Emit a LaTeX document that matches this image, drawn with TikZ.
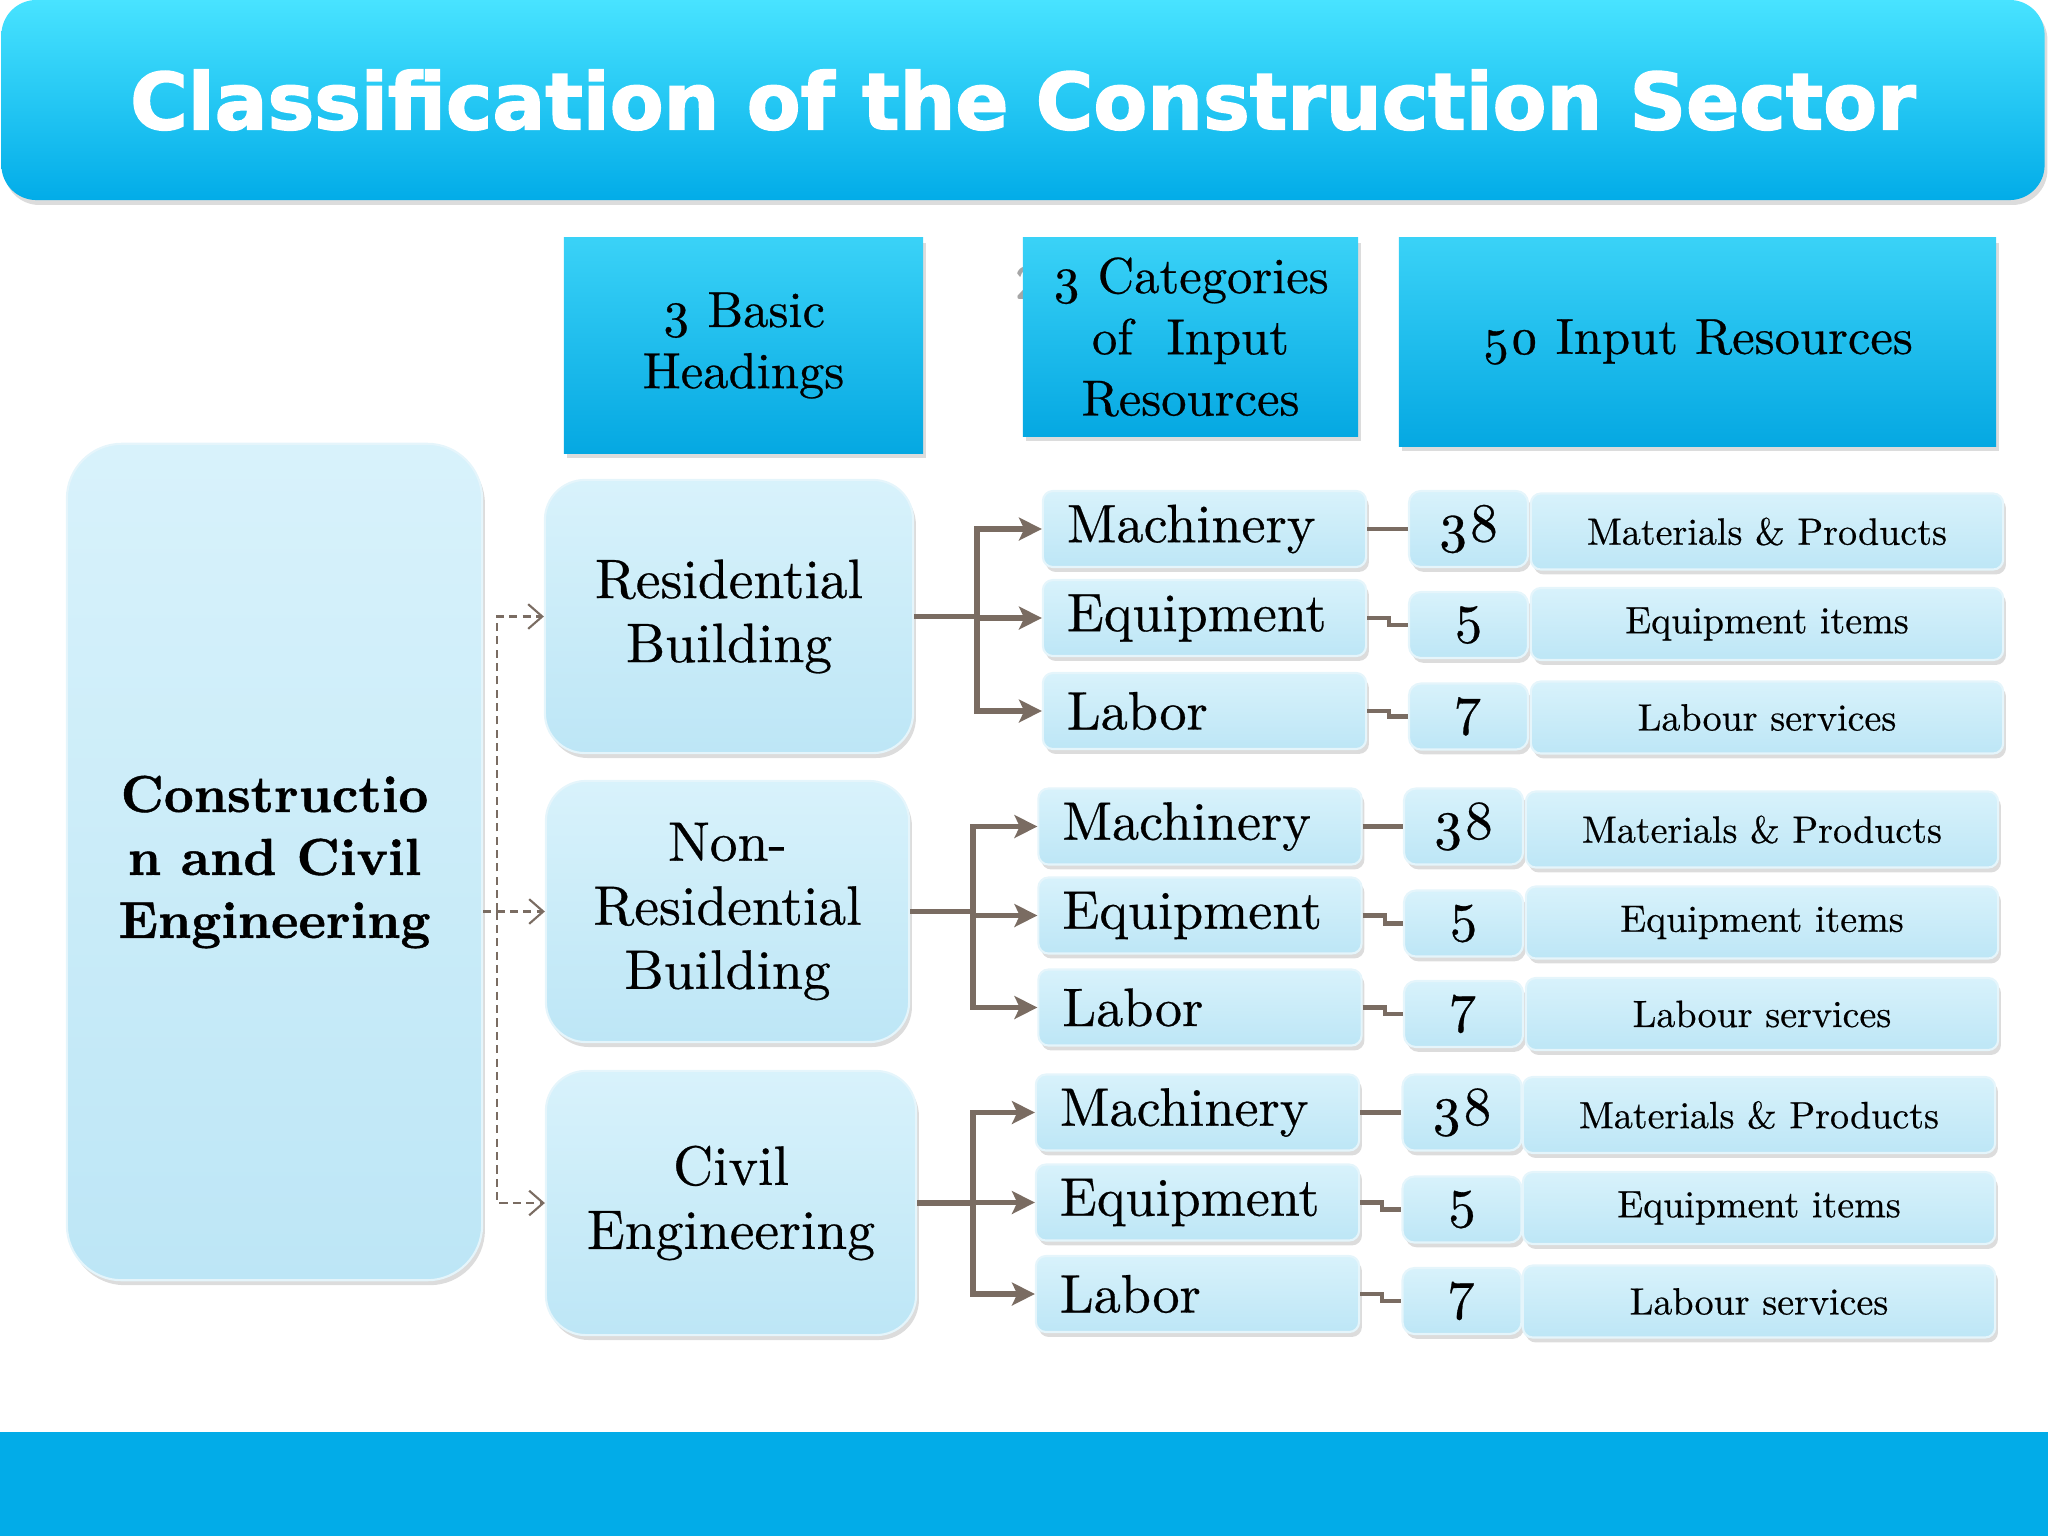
\RequirePackage{fix-cm}
\documentclass[tikz,border=0pt]{standalone}
\usepackage{fontspec}
\setmainfont{lmroman10-regular.otf}[BoldFont=lmroman10-bold.otf,
  UprightFeatures={FakeBold=0.5}, BoldFeatures={FakeBold=0.8}]
\newfontfamily\titlefont{DejaVu Sans}[BoldFeatures={FakeBold=2}]
\usetikzlibrary{shadows,arrows.meta}

\definecolor{boxblue}{HTML}{BDE6F6}
\definecolor{boxtop}{HTML}{D8F2FB}
\definecolor{headblue}{HTML}{05A8E2}
\definecolor{headtop}{HTML}{3AD2F7}
\definecolor{bartop}{HTML}{48E3FF}
\definecolor{barblue}{HTML}{02ACE8}
\definecolor{linkbrown}{HTML}{7A6C62}

\tikzset{
  softshadow/.style={drop shadow={opacity=0.28, shadow xshift=0.8pt, shadow yshift=-1.4pt}},
  titlebar/.style={top color=bartop, middle color=barblue, bottom color=barblue, rounded corners=3.5mm,
    softshadow, text=white, font=\titlefont\bfseries\fontsize{22.3}{27}\selectfont},
  headbox/.style={top color=headtop, middle color=headblue, bottom color=headblue, softshadow,
    align=center, font=\fontsize{14.4}{17.4}\selectfont},
  lightbox/.style={draw=white!60!boxblue, line width=0.6pt, top color=boxtop, bottom color=boxblue,
    softshadow, align=center, inner sep=0pt},
  basicbox/.style={lightbox, rounded corners=4mm, font=\fontsize{15.8}{18.2}\selectfont},
  catbox/.style={lightbox, rounded corners=1mm, minimum height=0.76cm, text width=2.75cm,
    inner xsep=0.24cm, align=left, font=\fontsize{15.4}{18}\selectfont},
  numbox/.style={lightbox, rounded corners=1.2mm, minimum width=1.19cm, minimum height=0.66cm,
    font=\fontsize{15.6}{18}\selectfont},
  resbox/.style={lightbox, rounded corners=1mm, minimum width=4.72cm, minimum height=0.72cm,
    font=\fontsize{10.8}{13}\selectfont},
  linkarrow/.style={draw=linkbrown, line width=1.6pt, -{Stealth[length=6.5pt,width=6.5pt,inset=1.5pt]}},
  linkline/.style={draw=linkbrown, line width=1.6pt},
  stepline/.style={draw=linkbrown, line width=1.2pt},
  dasharrow/.style={draw=linkbrown, line width=0.6pt, dash pattern=on 2.3pt off 1.5pt,
    -{Straight Barb[length=4pt,width=7pt]}}
}

\begin{document}
\begin{tikzpicture}[x=0.01cm,y=-0.01cm]
  % Page frame
  \useasboundingbox (0,0) rectangle (2048,1536);
  % Title band and bottom band
  \node[titlebar, minimum width=20.42cm, minimum height=2cm] (title) at (1023,100) {Classification of the Construction Sector};
  \fill[barblue] (0,1432) rectangle (2048,1536);

  % Column headings
  \node[text=gray!70, font=\sffamily\bfseries\fontsize{13}{15}\selectfont] (stray) at (1028,283) {2};
  \node[headbox, minimum width=3.59cm, minimum height=2.15cm] (hbasic) at (743.5,345.5) {\oldstylenums{3} Basic\\Headings};
  \node[headbox, minimum width=3.35cm, minimum height=1.98cm] (hcat) at (1190.5,337) {\oldstylenums{3} Categories\\of\ \ Input\\Resources};
  \node[headbox, minimum width=5.97cm, minimum height=2.08cm] (hinput) at (1697.5,342) {\oldstylenums{50} Input Resources};

  % Sector and basic headings
  \node[lightbox, rounded corners=5.5mm, minimum width=4.15cm, minimum height=8.36cm,
        font=\bfseries\fontsize{14.8}{17.9}\selectfont] (cce) at (274.5,862) {Constructio\\n and Civil\\Engineering};
  \node[basicbox, minimum width=3.68cm, minimum height=2.73cm] (res) at (729,616.5) {Residential\\Building};
  \node[basicbox, minimum width=3.63cm, minimum height=2.61cm] (nonres) at (727.5,911.5) {Non-\\Residential\\Building};
  \node[basicbox, minimum width=3.70cm, minimum height=2.64cm] (civil) at (731,1203) {Civil\\Engineering};

  % Residential building
  \node[catbox] (mach1) at (1204.5,529) {Machinery};
  \node[catbox] (equip1) at (1204.5,618) {Equipment};
  \node[catbox] (labor1) at (1204.5,711) {Labor};
  \node[numbox, minimum height=0.76cm] (numM1) at (1468.5,529) {\oldstylenums{38}};
  \node[numbox] (numE1) at (1468.5,625) {\oldstylenums{5}};
  \node[numbox] (numL1) at (1468.5,716.5) {\oldstylenums{7}};
  \node[resbox, minimum height=0.76cm] (resM1) at (1767,531.5) {Materials \& Products};
  \node[resbox] (resE1) at (1767,624) {Equipment items};
  \node[resbox] (resL1) at (1767,717.5) {Labour services};

  % Non-residential building
  \node[catbox] (mach2) at (1200,826.5) {Machinery};
  \node[catbox] (equip2) at (1200,915.5) {Equipment};
  \node[catbox] (labor2) at (1200,1007.5) {Labor};
  \node[numbox, minimum height=0.76cm] (numM2) at (1463.5,826.5) {\oldstylenums{38}};
  \node[numbox] (numE2) at (1463.5,923.5) {\oldstylenums{5}};
  \node[numbox] (numL2) at (1463.5,1014) {\oldstylenums{7}};
  \node[resbox, minimum height=0.76cm] (resM2) at (1762,829.5) {Materials \& Products};
  \node[resbox] (resE2) at (1762,922.5) {Equipment items};
  \node[resbox] (resL2) at (1762,1014) {Labour services};

  % Civil engineering
  \node[catbox] (mach3) at (1197.5,1112.5) {Machinery};
  \node[catbox] (equip3) at (1197.5,1202.5) {Equipment};
  \node[catbox] (labor3) at (1197.5,1294) {Labor};
  \node[numbox, minimum height=0.76cm] (numM3) at (1462,1112.5) {\oldstylenums{38}};
  \node[numbox] (numE3) at (1462,1209.5) {\oldstylenums{5}};
  \node[numbox] (numL3) at (1462,1301) {\oldstylenums{7}};
  \node[resbox, minimum height=0.76cm] (resM3) at (1759,1115) {Materials \& Products};
  \node[resbox] (resE3) at (1759,1208) {Equipment items};
  \node[resbox] (resL3) at (1759,1301.5) {Labour services};

  % Dashed links from the sector
  \coordinate (split) at (497,911.5);
  \draw[dasharrow] (cce.east |- nonres.west) -- (nonres.west);
  \draw[dasharrow] (split) |- (res.west);
  \draw[dasharrow] (split) |- (civil.west);

  % Branches to the input categories
  \coordinate (trunk1) at (977,616.5);
  \coordinate (trunk2) at (973,911.5);
  \coordinate (trunk3) at (973,1203);
  \draw[linkline] (res.east) -- (trunk1);
  \draw[linkline] (nonres.east) -- (trunk2);
  \draw[linkline] (civil.east) -- (trunk3);
  \draw[linkarrow] (trunk1) |- (mach1.west);
  \draw[linkarrow] (trunk1) |- (equip1.west);
  \draw[linkarrow] (trunk1) |- (labor1.west);
  \draw[linkarrow] (trunk2) |- (mach2.west);
  \draw[linkarrow] (trunk2) |- (equip2.west);
  \draw[linkarrow] (trunk2) |- (labor2.west);
  \draw[linkarrow] (trunk3) |- (mach3.west);
  \draw[linkarrow] (trunk3) |- (equip3.west);
  \draw[linkarrow] (trunk3) |- (labor3.west);

  % Categories to counts
  \draw[stepline] (mach1.east) -- (numM1.west);
  \draw[stepline] (equip1.east) -- ++(22,0) |- (numE1.west);
  \draw[stepline] (labor1.east) -- ++(22,0) |- (numL1.west);
  \draw[stepline] (mach2.east) -- (numM2.west);
  \draw[stepline] (equip2.east) -- ++(22,0) |- (numE2.west);
  \draw[stepline] (labor2.east) -- ++(22,0) |- (numL2.west);
  \draw[stepline] (mach3.east) -- (numM3.west);
  \draw[stepline] (equip3.east) -- ++(22,0) |- (numE3.west);
  \draw[stepline] (labor3.east) -- ++(22,0) |- (numL3.west);
\end{tikzpicture}
\end{document}
